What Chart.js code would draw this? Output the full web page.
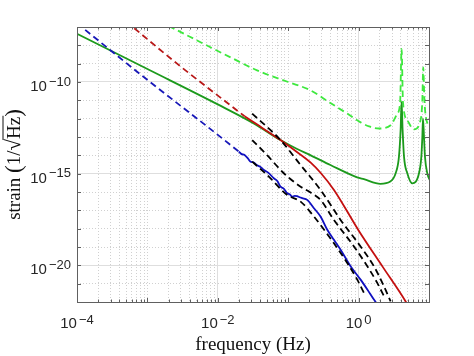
<!DOCTYPE html>
<html><head><meta charset="utf-8">
<script src="https://cdn.jsdelivr.net/npm/chart.js@4"></script>
<style>html,body{margin:0;padding:0;background:#fff;overflow:hidden;}</style>
</head><body>
<canvas id="c" width="474" height="356"></canvas>
<script>
// ---- data (frequency in Hz, strain in 1/sqrt(Hz)) ----
const greenSolidF = [1e-4, 1e-3, 1e-2, 0.0324, 0.0776, 0.134, 0.209, 0.398, 0.955, 1.19, 2.04, 2.82, 3.36, 3.74, 3.95, 4.08, 4.22, 4.42, 4.92, 5.79, 7.21, 7.78, 8.04, 8.22, 8.49, 8.77, 9.46, 10.5];
const greenSolidV = [4.3e-8, 5.1e-10, 6.0e-12, 5.5e-13, 6.8e-14, 2.2e-14, 1.0e-14, 2.95e-15, 6.3e-16, 5.0e-16, 2.8e-16, 3.7e-16, 1.05e-15, 8.3e-15, 2.3e-13, 8.1e-12, 2.3e-13, 8.3e-15, 1.05e-15, 2.95e-16, 1.05e-15, 8.3e-15, 1.0e-13, 1.0e-12, 1.0e-13, 8.3e-15, 1.05e-15, 3.7e-16];

const greenDashF = [2.0e-3, 0.0158, 0.0362, 0.1, 0.208, 0.398, 0.69, 1.067, 1.41, 1.95, 2.85, 3.55, 3.89, 4.08, 4.27, 4.92, 6.12, 7.59, 8.04, 8.28, 8.61, 9.12, 10.5];
const greenDashV = [1.15e-7, 2.04e-9, 4.3e-10, 1.0e-10, 3.5e-11, 7.1e-12, 1.9e-12, 6.3e-13, 3.8e-13, 2.9e-13, 4.4e-13, 1.9e-12, 8.1e-12, 6.3e-9, 8e-12, 8.3e-13, 2.6e-13, 8.3e-13, 1e-11, 6.3e-10, 1e-11, 1e-12, 3.5e-13];

const redDashF = [5.0e-4, 2.64e-3, 0.024];
const redDashV = [2.0e-7, 1.0e-9, 1.35e-12];

const redSolidF = [0.024, 0.0324, 0.0776, 0.126, 0.209, 0.288, 0.447, 1.0, 2.19, 4.66, 5.2];
const redSolidV = [1.35e-12, 6.3e-13, 6.8e-14, 1.78e-14, 4.0e-15, 1.12e-15, 1.3e-16, 8.0e-19, 8.5e-21, 1.07e-22, 5.0e-23];

const blueDashF = [1e-4, 8.9e-4, 8.3e-3, 0.0199];
const blueDashV = [1.6e-7, 1.86e-10, 2.3e-13, 1.6e-14];

const blueSolidF = [0.0199, 0.0215, 0.024, 0.027, 0.0291, 0.032, 0.0355, 0.04, 0.0451, 0.0525, 0.0625, 0.07, 0.0778, 0.087, 0.0968, 0.105, 0.114, 0.124, 0.134, 0.145, 0.158, 0.186, 0.232, 0.288, 0.359, 0.446, 0.555, 0.769, 1.067, 1.33, 1.65, 1.9];
const blueSolidV = [1.6e-14, 1.2e-14, 1.05e-14, 6.5e-15, 4.5e-15, 4.2e-15, 3.0e-15, 2.4e-15, 1.6e-15, 1.1e-15, 5.6e-16, 4.0e-16, 1.95e-16, 1.5e-16, 8.5e-17, 7.5e-17, 5.6e-17, 6.2e-17, 6.0e-17, 5.2e-17, 4.6e-17, 3.7e-17, 1.3e-17, 4.6e-18, 8.7e-19, 2.45e-19, 7.1e-20, 8.9e-21, 1.66e-21, 4.8e-22, 1.35e-22, 6.3e-23];

const blackAF = [0.0308, 0.0778, 0.150, 0.288, 0.555, 1.067, 1.65, 2.29, 2.85];
const blackAV = [1.9e-12, 6.8e-14, 2.95e-15, 1.3e-16, 3.0e-18, 1.07e-19, 8.9e-21, 7.2e-22, 1.07e-22];
const blackBF = [0.0308, 0.0502, 0.0867, 0.150, 0.208, 0.288, 0.446, 0.859, 1.33, 1.84, 2.29];
const blackBV = [6.8e-14, 1.02e-14, 1.05e-15, 1.95e-16, 9.3e-17, 3.7e-17, 3.0e-18, 1.07e-19, 8.9e-21, 1.1e-21, 2.1e-22];
const blackCF = [0.0308, 0.0502, 0.0968, 0.150, 0.232, 0.446, 0.69, 0.957, 1.19];
const blackCV = [4.5e-15, 8.5e-16, 6.9e-17, 3.0e-17, 4.6e-18, 1.6e-19, 1.35e-20, 1.66e-21, 3.2e-22];

// axis ranges and labelled tick exponents
const xRange = [1e-4, 1e1];
const yRange = [1e-22, 1e-7];
const xLabelExp = [-4, -2, 0];
const yLabelExp = [-20, -15, -10];
const xTitle = 'frequency (Hz)';
const yTitleParts = ['strain ', '(', '1/', '\u221A', 'Hz', ')'];

// ---- helpers ----
const pts = (f, v) => f.map((x, i) => ({x: x, y: v[i]}));
const near = (v, e) => Math.abs(Math.log10(v) - e) < 1e-6;
const isXMajor = v => xLabelExp.some(e => near(v, e));
const isYMajor = v => yLabelExp.some(e => near(v, e));
const isDecade = v => Math.abs(Math.log10(v) - Math.round(Math.log10(v))) < 1e-6;

function buildXTicks(scale) {
  const t = [];
  const e0 = Math.round(Math.log10(xRange[0])), e1 = Math.round(Math.log10(xRange[1]));
  for (let e = e0; e < e1; e++) for (let m = 1; m <= 9; m++) t.push({value: m * Math.pow(10, e)});
  t.push({value: xRange[1]});
  scale.ticks = t;
}
function buildYTicks(scale) {
  const t = [];
  const e0 = Math.round(Math.log10(yRange[0])), e1 = Math.round(Math.log10(yRange[1]));
  for (let e = e0; e <= e1; e++) t.push({value: Math.pow(10, e)});
  scale.ticks = t;
}

const GRID_MAJOR = '#dedede', GRID_MINOR = '#d0d0d0';

const axesPlugin = {
  id: 'matlabAxes',
  afterDatasetsDraw(chart) {
    const {ctx, chartArea: a, scales: {x, y}} = chart;
    ctx.save();
    ctx.strokeStyle = '#606060';
    ctx.lineWidth = 1;
    ctx.beginPath();
    x.ticks.forEach(t => {
      const px = Math.round(x.getPixelForValue(t.value)) + 0.5;
      const len = isDecade(t.value) ? 4 : 2.5;
      ctx.moveTo(px, a.bottom); ctx.lineTo(px, a.bottom - len);
      ctx.moveTo(px, a.top); ctx.lineTo(px, a.top + len);
    });
    y.ticks.forEach(t => {
      const py = Math.round(y.getPixelForValue(t.value)) + 0.5;
      ctx.moveTo(a.left, py); ctx.lineTo(a.left + 4, py);
      ctx.moveTo(a.right, py); ctx.lineTo(a.right - 4, py);
    });
    ctx.stroke();
    ctx.strokeRect(Math.round(a.left) + 0.5, Math.round(a.top) + 0.5, Math.round(a.right - a.left), Math.round(a.bottom - a.top));
    ctx.restore();
  },
  afterDraw(chart) {
    const {ctx, chartArea: a, scales: {x, y}} = chart;
    ctx.save();
    ctx.fillStyle = '#262626';
    ctx.textBaseline = 'alphabetic';
    const baseFont = '15px "Liberation Sans", Arial, sans-serif';
    const expFont = '13px "Liberation Sans", Arial, sans-serif';
    const expStr = e => (e < 0 ? '\u2212' : '') + Math.abs(e);
    const gap = 2;
    // x labels
    xLabelExp.forEach(e => {
      const px = x.getPixelForValue(Math.pow(10, e));
      ctx.font = baseFont; const w1 = ctx.measureText('10').width;
      ctx.font = expFont; const w2 = ctx.measureText(expStr(e)).width;
      const s = px - (w1 + gap + w2) / 2;
      ctx.textAlign = 'left';
      ctx.font = baseFont; ctx.fillText('10', s, a.bottom + 26);
      ctx.font = expFont; ctx.fillText(expStr(e), s + w1 + gap, a.bottom + 22);
    });
    // y labels
    yLabelExp.forEach(e => {
      const py = y.getPixelForValue(Math.pow(10, e));
      const r = a.left - 6;
      ctx.textAlign = 'right';
      ctx.font = expFont; const w2 = ctx.measureText(expStr(e)).width;
      ctx.fillText(expStr(e), r, py + 3.5);
      ctx.font = baseFont; ctx.fillText('10', r - w2 - gap, py + 9);
    });
    // x title
    ctx.fillStyle = '#111';
    ctx.font = '19px "Liberation Serif", "Times New Roman", serif';
    ctx.textAlign = 'center';
    ctx.fillText(xTitle, (a.left + a.right) / 2, 350);
    // y title (rotated)
    ctx.translate(19.5, (a.top + a.bottom) / 2);
    ctx.rotate(-Math.PI / 2);
    const fonts = ['19px "Liberation Serif", serif', '23px "Liberation Serif", serif', '19px "Liberation Serif", serif', '21px "Liberation Serif", serif', '19px "Liberation Serif", serif', '23px "Liberation Serif", serif'];
    const widths = yTitleParts.map((p, i) => { ctx.font = fonts[i]; return ctx.measureText(p).width; });
    const total = widths.reduce((s, w) => s + w, 0);
    let cx = -total / 2;
    ctx.textAlign = 'left';
    let sqrtEnd = 0, hzEnd = 0;
    yTitleParts.forEach((p, i) => {
      ctx.font = fonts[i];
      ctx.fillText(p, cx, i === 1 || i === 5 ? 1.5 : 0);
      cx += widths[i];
      if (i === 3) sqrtEnd = cx;
      if (i === 4) hzEnd = cx;
    });
    ctx.strokeStyle = '#111'; ctx.lineWidth = 1;
    ctx.beginPath(); ctx.moveTo(sqrtEnd - 1, -16.5); ctx.lineTo(hzEnd + 1, -16.5); ctx.stroke();
    ctx.restore();
  }
};

const DASH = [6.5, 4];
const line = (data, color, dashed, width) => ({
  data: data, borderColor: color, borderWidth: width || 1.8, borderDash: dashed ? DASH : [],
  pointRadius: 0, fill: false, cubicInterpolationMode: 'monotone', borderJoinStyle: 'round'
});

new Chart(document.getElementById('c'), {
  type: 'line',
  data: {
    datasets: [
      line(pts(blackAF, blackAV), '#000000', true),
      line(pts(blackBF, blackBV), '#000000', true),
      line(pts(blackCF, blackCV), '#000000', true),
      line(pts(blueSolidF, blueSolidV), '#1010c0', false),
      line(pts(blueDashF, blueDashV), '#1818b8', true),
      line(pts(redSolidF, redSolidV), '#c41010', false),
      line(pts(redDashF, redDashV), '#b81818', true),
      line(pts(greenSolidF, greenSolidV), '#1c9a1c', false),
      line(pts(greenDashF, greenDashV), '#3ee83e', true)
    ]
  },
  options: {
    responsive: false, animation: false, events: [],
    layout: {padding: {left: 0, top: 27, right: 45, bottom: 0}},
    plugins: {legend: {display: false}, tooltip: {enabled: false}},
    scales: {
      x: {
        type: 'logarithmic', min: xRange[0], max: xRange[1],
        afterBuildTicks: buildXTicks,
        afterFit: s => { s.height = 54; },
        ticks: {display: false},
        grid: {color: c => isXMajor(c.tick.value) ? GRID_MAJOR : GRID_MINOR, lineWidth: 1, drawTicks: false},
        border: {display: false, dash: c => (c.tick && !isXMajor(c.tick.value)) ? [1, 2] : []}
      },
      y: {
        type: 'logarithmic', min: yRange[0], max: yRange[1],
        afterBuildTicks: buildYTicks,
        afterFit: s => { s.width = 77; },
        ticks: {display: false},
        grid: {color: c => isYMajor(c.tick.value) ? GRID_MAJOR : GRID_MINOR, lineWidth: 1, drawTicks: false},
        border: {display: false, dash: c => (c.tick && !isYMajor(c.tick.value)) ? [1, 2] : []}
      }
    }
  },
  plugins: [axesPlugin]
});
</script>
</body></html>
